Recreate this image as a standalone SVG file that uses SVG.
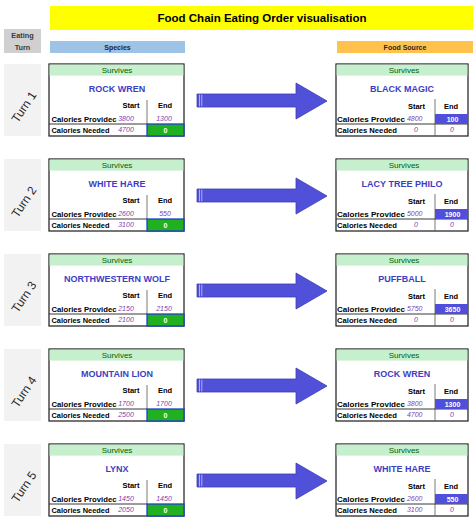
<svg xmlns="http://www.w3.org/2000/svg" xmlns:xlink="http://www.w3.org/1999/xlink" width="474" height="524" viewBox="0 0 474 524">
<style>
text{font-family:"Liberation Sans",Arial,sans-serif}
.ttl{font-size:11.5px;font-weight:bold;fill:#000;text-anchor:middle}
.hb{font-size:7px;font-weight:bold;fill:#262626;text-anchor:middle}
.et{font-size:7.3px;font-weight:bold;fill:#3a3a3a;text-anchor:middle}
.sv{font-size:8px;fill:#006100;text-anchor:middle}
.nm{font-size:9px;font-weight:bold;fill:#3D3DC4;text-anchor:middle}
.hd{font-size:7.5px;font-weight:bold;fill:#000;text-anchor:middle}
.lb{font-size:7.5px;font-weight:bold;fill:#000}
.nu{font-size:7px;font-style:italic;fill:#7B3FB0;text-anchor:middle}
.wh{font-size:7px;font-weight:bold;fill:#fff;text-anchor:middle}
.turn{font-size:12px;fill:#262626;text-anchor:middle}
.tb{fill:#F2F2F2}
.arrow{fill:#5050D8;stroke:#3C3CB4;stroke-width:0.8}
.stripe{stroke:#C8C8F4;stroke-width:0.8}
</style>
<defs>
<g id="lf">
<rect x="49" y="64" width="135" height="72" fill="#fff" stroke="#1a1a1a" stroke-width="1.2"/>
<rect x="49.6" y="64.6" width="133.8" height="11" fill="#C6EFCE"/>
<line x1="147" y1="100" x2="147" y2="124" stroke="#555" stroke-width="0.8"/>
<line x1="49" y1="124" x2="147" y2="124" stroke="#222" stroke-width="0.9"/>
<rect x="147" y="124" width="37" height="12" fill="#20B020" stroke="#2040C8" stroke-width="1.3"/>
</g>
<g id="rf">
<rect x="336" y="64" width="132" height="72" fill="#fff" stroke="#1a1a1a" stroke-width="1.2"/>
<rect x="336.6" y="64.6" width="130.8" height="11" fill="#C6EFCE"/>
<line x1="435" y1="99" x2="435" y2="136" stroke="#555" stroke-width="0.8"/>
<line x1="336" y1="124" x2="468" y2="124" stroke="#222" stroke-width="0.9"/>
<rect x="435" y="114" width="33" height="10" fill="#4F4FDC"/>
</g>
<g id="arr">
<polygon class="arrow" points="197,94 296,94 296,83 327,101 296,119 296,107 197,107"/>
<line class="stripe" x1="199.5" y1="94.6" x2="199.5" y2="106.4"/>
<line class="stripe" x1="201.8" y1="94.6" x2="201.8" y2="106.4"/>
</g>
</defs>

<g id="title">
<rect x="50" y="6" width="423" height="24" fill="#FFFF00"/>
<text class="ttl" x="262" y="21.8">Food Chain Eating Order visualisation</text>
</g>
<g id="eating-turn-header">
<rect x="4" y="29" width="37" height="24" fill="#D0D0D0"/>
<text class="et" x="22.5" y="38">Eating</text>
<text class="et" x="22.5" y="50">Turn</text>
</g>
<g id="species-header">
<rect x="50" y="41" width="135" height="12" fill="#9DC3E6"/>
<text class="hb" x="117.5" y="49.5">Species</text>
</g>
<g id="food-header">
<rect x="337" y="41" width="136" height="12" fill="#FFC24D"/>
<text class="hb" x="405" y="49.5">Food Source</text>
</g>

<g id="connectors">
<use xlink:href="#arr"/>
<use xlink:href="#arr" y="95"/>
<use xlink:href="#arr" y="190"/>
<use xlink:href="#arr" y="285"/>
<use xlink:href="#arr" y="380"/>
</g>

<g id="turn1" transform="translate(0,0)">
<g id="turn1-label"><rect class="tb" x="4" y="64" width="37" height="72"/><text class="turn" transform="translate(24,107) rotate(-56)" y="4">Turn 1</text></g>
<g id="turn1-species">
<use xlink:href="#lf"/>
<text class="sv" x="117" y="73">Survives</text>
<text class="nm" x="117" y="92">ROCK WREN</text>
<text class="hd" x="131" y="108.3">Start</text><text class="hd" x="165" y="108.3">End</text>
<text class="lb" x="51.5" y="121.5" textLength="65" lengthAdjust="spacingAndGlyphs">Calories Providec</text>
<text class="lb" x="51.5" y="132.5" textLength="58" lengthAdjust="spacingAndGlyphs">Calories Needed</text>
<text class="nu" x="126" y="120.8">3800</text><text class="nu" x="164" y="120.8">1300</text>
<text class="nu" x="126" y="132.2">4700</text><text class="wh" x="165.5" y="132.5">0</text>
</g>
<g id="turn1-food">
<use xlink:href="#rf"/>
<text class="sv" x="404" y="73">Survives</text>
<text class="nm" x="402" y="92">BLACK MAGIC</text>
<text class="hd" x="416.5" y="108.5">Start</text><text class="hd" x="451" y="108.5">End</text>
<text class="lb" x="337" y="121.5" textLength="68" lengthAdjust="spacingAndGlyphs">Calories Providec</text>
<text class="lb" x="337" y="132.5" textLength="60" lengthAdjust="spacingAndGlyphs">Calories Needed</text>
<text class="nu" x="414.7" y="120.8">4800</text><text class="wh" x="452.5" y="121.5">100</text>
<text class="nu" x="416" y="132.2">0</text><text class="nu" x="452" y="132.2">0</text>
</g>
</g>

<g id="turn2" transform="translate(0,95)">
<g id="turn2-label"><rect class="tb" x="4" y="64" width="37" height="72"/><text class="turn" transform="translate(24,107) rotate(-56)" y="4">Turn 2</text></g>
<g id="turn2-species">
<use xlink:href="#lf"/>
<text class="sv" x="117" y="73">Survives</text>
<text class="nm" x="117" y="92">WHITE HARE</text>
<text class="hd" x="131" y="108.3">Start</text><text class="hd" x="165" y="108.3">End</text>
<text class="lb" x="51.5" y="121.5" textLength="65" lengthAdjust="spacingAndGlyphs">Calories Providec</text>
<text class="lb" x="51.5" y="132.5" textLength="58" lengthAdjust="spacingAndGlyphs">Calories Needed</text>
<text class="nu" x="126" y="120.8">2600</text><text class="nu" x="165" y="120.8">550</text>
<text class="nu" x="126" y="132.2">3100</text><text class="wh" x="165.5" y="132.5">0</text>
</g>
<g id="turn2-food">
<use xlink:href="#rf"/>
<text class="sv" x="404" y="73">Survives</text>
<text class="nm" x="402" y="92">LACY TREE PHILO</text>
<text class="hd" x="416.5" y="108.5">Start</text><text class="hd" x="451" y="108.5">End</text>
<text class="lb" x="337" y="121.5" textLength="68" lengthAdjust="spacingAndGlyphs">Calories Providec</text>
<text class="lb" x="337" y="132.5" textLength="60" lengthAdjust="spacingAndGlyphs">Calories Needed</text>
<text class="nu" x="414.7" y="120.8">5000</text><text class="wh" x="452.5" y="121.5">1900</text>
<text class="nu" x="416" y="132.2">0</text><text class="nu" x="452" y="132.2">0</text>
</g>
</g>

<g id="turn3" transform="translate(0,190)">
<g id="turn3-label"><rect class="tb" x="4" y="64" width="37" height="72"/><text class="turn" transform="translate(24,107) rotate(-56)" y="4">Turn 3</text></g>
<g id="turn3-species">
<use xlink:href="#lf"/>
<text class="sv" x="117" y="73">Survives</text>
<text class="nm" x="117" y="92">NORTHWESTERN WOLF</text>
<text class="hd" x="131" y="108.3">Start</text><text class="hd" x="165" y="108.3">End</text>
<text class="lb" x="51.5" y="121.5" textLength="65" lengthAdjust="spacingAndGlyphs">Calories Providec</text>
<text class="lb" x="51.5" y="132.5" textLength="58" lengthAdjust="spacingAndGlyphs">Calories Needed</text>
<text class="nu" x="126" y="120.8">2150</text><text class="nu" x="164" y="120.8">2150</text>
<text class="nu" x="126" y="132.2">2100</text><text class="wh" x="165.5" y="132.5">0</text>
</g>
<g id="turn3-food">
<use xlink:href="#rf"/>
<text class="sv" x="404" y="73">Survives</text>
<text class="nm" x="402" y="92">PUFFBALL</text>
<text class="hd" x="416.5" y="108.5">Start</text><text class="hd" x="451" y="108.5">End</text>
<text class="lb" x="337" y="121.5" textLength="68" lengthAdjust="spacingAndGlyphs">Calories Providec</text>
<text class="lb" x="337" y="132.5" textLength="60" lengthAdjust="spacingAndGlyphs">Calories Needed</text>
<text class="nu" x="414.7" y="120.8">5750</text><text class="wh" x="452.5" y="121.5">3650</text>
<text class="nu" x="416" y="132.2">0</text><text class="nu" x="452" y="132.2">0</text>
</g>
</g>

<g id="turn4" transform="translate(0,285)">
<g id="turn4-label"><rect class="tb" x="4" y="64" width="37" height="72"/><text class="turn" transform="translate(24,107) rotate(-56)" y="4">Turn 4</text></g>
<g id="turn4-species">
<use xlink:href="#lf"/>
<text class="sv" x="117" y="73">Survives</text>
<text class="nm" x="117" y="92">MOUNTAIN LION</text>
<text class="hd" x="131" y="108.3">Start</text><text class="hd" x="165" y="108.3">End</text>
<text class="lb" x="51.5" y="121.5" textLength="65" lengthAdjust="spacingAndGlyphs">Calories Providec</text>
<text class="lb" x="51.5" y="132.5" textLength="58" lengthAdjust="spacingAndGlyphs">Calories Needed</text>
<text class="nu" x="126" y="120.8">1700</text><text class="nu" x="164" y="120.8">1700</text>
<text class="nu" x="126" y="132.2">2500</text><text class="wh" x="165.5" y="132.5">0</text>
</g>
<g id="turn4-food">
<use xlink:href="#rf"/>
<text class="sv" x="404" y="73">Survives</text>
<text class="nm" x="402" y="92">ROCK WREN</text>
<text class="hd" x="416.5" y="108.5">Start</text><text class="hd" x="451" y="108.5">End</text>
<text class="lb" x="337" y="121.5" textLength="68" lengthAdjust="spacingAndGlyphs">Calories Providec</text>
<text class="lb" x="337" y="132.5" textLength="60" lengthAdjust="spacingAndGlyphs">Calories Needed</text>
<text class="nu" x="414.7" y="120.8">3800</text><text class="wh" x="452.5" y="121.5">1300</text>
<text class="nu" x="414.7" y="132.2">4700</text><text class="nu" x="452" y="132.2">0</text>
</g>
</g>

<g id="turn5" transform="translate(0,380)">
<g id="turn5-label"><rect class="tb" x="4" y="64" width="37" height="72"/><text class="turn" transform="translate(24,107) rotate(-56)" y="4">Turn 5</text></g>
<g id="turn5-species">
<use xlink:href="#lf"/>
<text class="sv" x="117" y="73">Survives</text>
<text class="nm" x="117" y="92">LYNX</text>
<text class="hd" x="131" y="108.3">Start</text><text class="hd" x="165" y="108.3">End</text>
<text class="lb" x="51.5" y="121.5" textLength="65" lengthAdjust="spacingAndGlyphs">Calories Providec</text>
<text class="lb" x="51.5" y="132.5" textLength="58" lengthAdjust="spacingAndGlyphs">Calories Needed</text>
<text class="nu" x="126" y="120.8">1450</text><text class="nu" x="164" y="120.8">1450</text>
<text class="nu" x="126" y="132.2">2050</text><text class="wh" x="165.5" y="132.5">0</text>
</g>
<g id="turn5-food">
<use xlink:href="#rf"/>
<text class="sv" x="404" y="73">Survives</text>
<text class="nm" x="402" y="92">WHITE HARE</text>
<text class="hd" x="416.5" y="108.5">Start</text><text class="hd" x="451" y="108.5">End</text>
<text class="lb" x="337" y="121.5" textLength="68" lengthAdjust="spacingAndGlyphs">Calories Providec</text>
<text class="lb" x="337" y="132.5" textLength="60" lengthAdjust="spacingAndGlyphs">Calories Needed</text>
<text class="nu" x="414.7" y="120.8">2600</text><text class="wh" x="452.5" y="121.5">550</text>
<text class="nu" x="414.7" y="132.2">3100</text><text class="nu" x="452" y="132.2">0</text>
</g>
</g>
</svg>
